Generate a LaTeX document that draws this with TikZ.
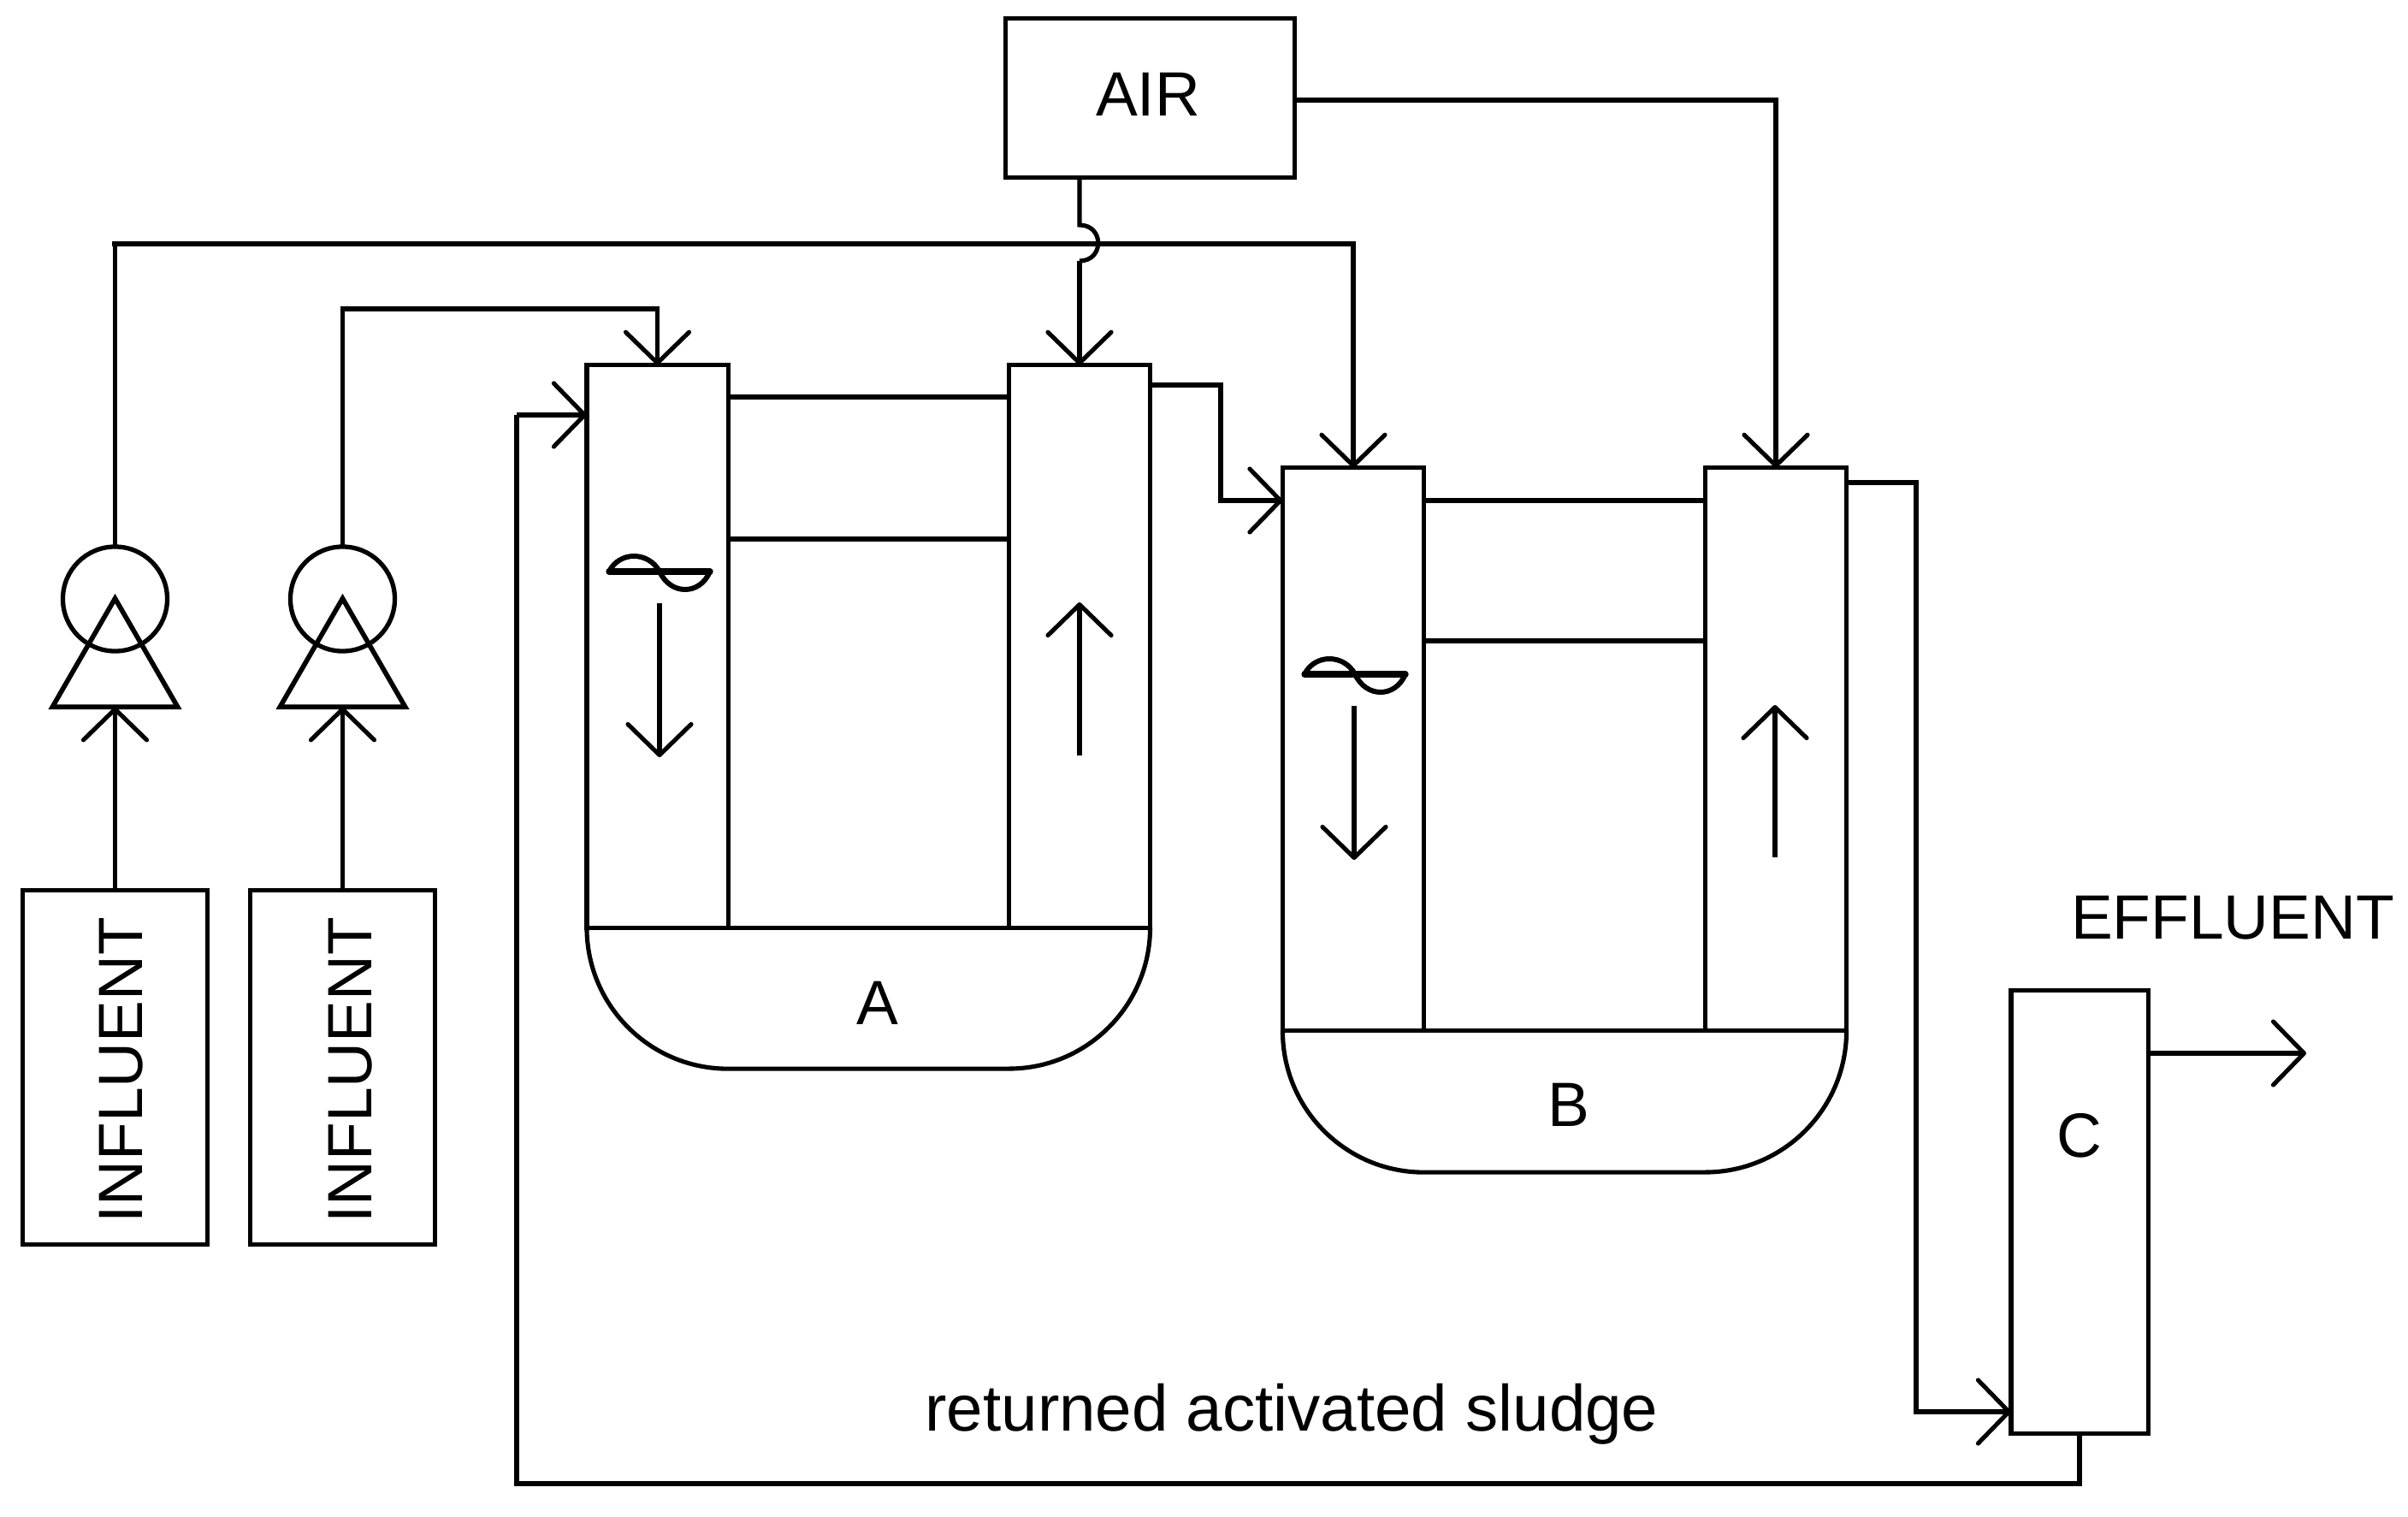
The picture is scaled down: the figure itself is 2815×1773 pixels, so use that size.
\documentclass[tikz,border=0pt]{standalone}
\usepackage{fontspec}
\setmainfont{Liberation Sans}
\usetikzlibrary{arrows.meta,shapes.geometric}
\tikzset{
  lw/.style={line width=1.45pt},
  heavy/.style={line width=1.9pt},
  box/.style={draw,lw,inner sep=0pt,outer sep=0pt},
  pumpc/.style={draw,line width=1.5pt,circle,inner sep=0pt,outer sep=0pt,minimum size=1.22cm},
  tri/.style={draw,line width=1.6pt,regular polygon,regular polygon sides=3,inner sep=0pt,outer sep=0pt,minimum size=1.69cm},
  head/.style={-{Straight Barb[length=.36cm,width=.74cm,round]}},
  txt/.style={inner sep=0pt,font=\fontsize{20.8}{24}\selectfont},
  column/.style={box,minimum width=1.65cm,minimum height=6.57cm},
  influentbox/.style={box,minimum width=2.15cm,minimum height=4.13cm},
}
\newcommand{\mixersym}[2]{%
  \begin{scope}[shift={(#1,#2)}]
    \draw[line width=2.1pt,line cap=round] (-59,0) -- (59,0);
    \draw[line width=1.7pt] (-59,0) .. controls (-47,-24) and (-13,-24) .. (0,0)
       .. controls (13,28) and (47,28) .. (59,0);
  \end{scope}}
\begin{document}
\begin{tikzpicture}[x=0.01cm,y=-0.01cm]
\useasboundingbox (0,0) rectangle (2815,1773);
% boxes
\node[box,minimum width=3.37cm,minimum height=1.85cm] (air) at (1344.5,114.5) {};
\node[txt] (airt) at (1342,110) {AIR};
\node[influentbox] (inf1) at (134.5,1247.5) {};
\node[influentbox] (inf2) at (400.5,1247.5) {};
\node[txt,rotate=90] (inf1t) at (142,1251) {INFLUENT};
\node[txt,rotate=90] (inf2t) at (410,1251) {INFLUENT};
% pumps
\node[pumpc] (pump1) at (134.5,700) {};
\node[pumpc] (pump2) at (400.5,700) {};
\node[tri] (tri1) at (134.5,784) {};
\node[tri] (tri2) at (400.5,784) {};
% tank A
\node[column] (a1) at (768.5,755.5) {};
\node[column] (a2) at (1262,755.5) {};
\draw[lw] (a1.south west) -- (a2.south east);
\draw[lw,rounded corners=1.65cm] (a1.south west) -- ++(0,165) -- (a2.south east |- 0,1249) -- (a2.south east);
\draw[lw] (a1.east |- 0,464) -- (a2.west |- 0,464);
\draw[lw] (a1.east |- 0,630) -- (a2.west |- 0,630);
\node[txt] (la) at (1026,1172) {A};
% tank B
\node[column] (b1) at (1582,875.5) {};
\node[column] (b2) at (2076,875.5) {};
\draw[lw] (b1.south west) -- (b2.south east);
\draw[lw,rounded corners=1.65cm] (b1.south west) -- ++(0,166) -- (b2.south east |- 0,1370) -- (b2.south east);
\draw[heavy] (b1.east |- 0,585) -- (b2.west |- 0,585);
\draw[lw] (b1.east |- 0,749) -- (b2.west |- 0,749);
\node[txt] (lb) at (1834,1291) {B};
% clarifier
\node[box,minimum width=1.6cm,minimum height=5.17cm] (c) at (2431,1416.5) {};
\node[txt] (lc) at (2431,1327) {C};
% mixers and flow arrows inside columns
\mixersym{771}{668}
\mixersym{1584}{788}
\draw[lw,head] (771,705) -- (771,885);
\draw[lw,head] (1583,825) -- (1583,1005);
\draw[lw,head] (1262,883) -- (1262,704);
\draw[lw,head] (2075,1002) -- (2075,824);
% influent connections
\draw[lw,head] (inf1.north) -- (tri1.south);
\draw[lw,head] (inf2.north) -- (tri2.south);
\coordinate (toplevel) at (0,285);
\coordinate (feedlevel) at (0,361);
\draw[lw] (pump1.north) -- (pump1.north |- toplevel);
\draw[heavy,line cap=rect] (pump1.north |- toplevel) -- (b1.north |- toplevel);
\draw[lw,head] (b1.north |- toplevel) -- (b1.north);
\draw[lw,head] (pump2.north) -- (pump2.north |- feedlevel) -- (a1.north |- feedlevel) -- (a1.north);
% air
\coordinate (jumpa) at (a2.north |- 0,263);
\coordinate (jumpb) at (a2.north |- 0,305);
\draw[lw] (a2.north |- air.south) -- (jumpa) .. controls ++(29,0) and ([xshift=.29cm]jumpb) .. (jumpb);
\draw[lw,head] (jumpb) -- (a2.north);
\coordinate (airout) at (air.east |- 0,117);
\draw[lw,head] (airout) -- (airout -| b2.north) -- (b2.north);
% A to B
\coordinate (aout) at (a2.east |- 0,450);
\draw[lw,head] (aout) -- (1427,450) -- (1427,585) -- (b1.west |- 0,585);
% B to C
\coordinate (bout) at (b2.east |- 0,564);
\coordinate (cin) at (c.west |- 0,1650);
\draw[lw,head] (bout) -- (2240,564) -- (2240,1650) -- (cin);
% return sludge
\coordinate (ain) at (a1.west |- 0,485);
\draw[heavy] (c.south) -- (c.south |- 0,1734) -- (604,1734) -- (604,485);
\draw[lw,head] (604,485) -- (ain);
% effluent
\coordinate (cout) at (c.east |- 0,1231);
\coordinate (eff) at (2696,1231);
\draw[lw,head] (cout) -- (eff);
\node[txt] (efft) at (2610,1073) {EFFLUENT};
\node[txt,font=\fontsize{21.7}{24}\selectfont] (rast) at (1510,1653) {returned activated sludge};
\end{tikzpicture}
\end{document}
